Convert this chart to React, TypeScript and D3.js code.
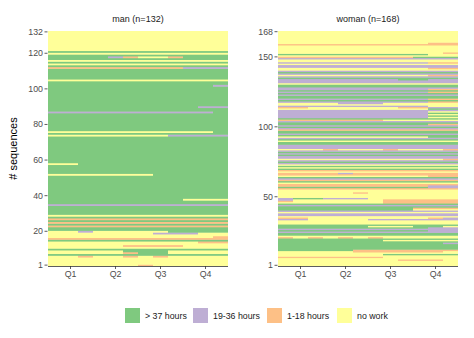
import React from "react";
import * as d3 from "d3";

// ---- data ----
const stateCodes = ["G", "P", "O", "Y"];
const stateLabels = ["> 37 hours", "19-36 hours", "1-18 hours", "no work"];
const stateColors = ["#7FC97F", "#BEAED4", "#FDC086", "#FFFF99"];

const monthCount = 12;
const quarterPositions = [2, 5, 8, 11];
const quarterLabels = ["Q1", "Q2", "Q3", "Q4"];

const manTicks = [1, 20, 40, 60, 80, 100, 120, 132];
const womanTicks = [1, 50, 100, 150, 168];

// sequences, bottom (#1) to top, as [monthly states, number of identical rows]
const manRuns: [string, number][] = [
  ["YYYYYYOYYYYY", 1],
  ["YYYYYYYYYYYY", 4],
  ["YYOYYOYOYYYY", 1],
  ["GGGGGGGGGGGG", 1],
  ["YYYYYOGGYYYY", 1],
  ["YYYYYGGGYYYY", 1],
  ["GGGGGGGGGGGG", 1],
  ["YYYYYYYYYYYY", 1],
  ["YYYYYOOOOYYY", 1],
  ["YYYYYYYYYYYY", 1],
  ["YYYYYYYYYYOO", 1],
  ["GGGGGGGGGGGG", 1],
  ["OOOOOOOOOOOO", 1],
  ["YYYYYYYYYYYO", 1],
  ["YYYYYYYYYYYY", 1],
  ["YYYYYYYPPPYY", 1],
  ["YYPYYYYYGGGG", 1],
  ["GGGGGGGGGGGG", 2],
  ["OOOOOOOOOOOO", 1],
  ["GGGGGGGGGGGG", 1],
  ["OOOOOOOOOOOO", 1],
  ["GGGGGGGGGGGG", 1],
  ["OOOOOOOOOOOO", 1],
  ["GGGGGGGGGGGG", 1],
  ["YYYYYYYYYYYY", 1],
  ["GGGGGGGGGGGG", 5],
  ["PPPPPPPPPPPP", 1],
  ["GGGGGGGGGGGG", 2],
  ["GGGGGGGGGYYY", 1],
  ["GGGGGGGGGGGG", 13],
  ["YYYYYYYGGGGG", 1],
  ["GGGGGGGGGGGG", 5],
  ["YYGGGGGGGGGG", 1],
  ["GGGGGGGGGGGG", 15],
  ["YYYYYYYYPPPP", 1],
  ["GGGGGGGGGGGG", 1],
  ["YYYYYYYYYYYG", 1],
  ["GGGGGGGGGGGG", 10],
  ["PPPPPPPPPPPG", 1],
  ["GGGGGGGGGGGG", 2],
  ["GGGGGGGGGGPP", 1],
  ["GGGGGGGGGGGG", 11],
  ["GGGGGGGGGGGP", 1],
  ["GGGGGGGGGGGG", 2],
  ["YYYYYYYYYYYY", 1],
  ["GGGGGGGGGGGG", 6],
  ["OOOOOOOOOPPP", 1],
  ["GGGGGGGGGGGG", 1],
  ["YYYYYYYYYYYY", 1],
  ["GGGGGGGGGGGG", 1],
  ["YYYYYYYYYYYY", 1],
  ["GGGGGGGGGGGG", 1],
  ["GGGGPOYYOGGG", 1],
  ["GGGGGGGGGGGG", 1],
  ["YYYYYYYYYYYY", 1],
  ["GGGGGGGGGGGG", 1],
  ["YYYYYYYYYYYY", 11],
];

const womanRuns: [string, number][] = [
  ["YYYYYYYYYYYY", 4],
  ["YYYYYYYYOOOY", 1],
  ["YYYYYYYYYYYY", 1],
  ["OOOOOOOYYYYY", 1],
  ["YYYYYYYYYYYY", 1],
  ["YYYYYYYGGGGG", 1],
  ["YYYYYYYYYYYY", 1],
  ["YYYYYOOOOOOY", 1],
  ["GGGGGOOOOOOO", 1],
  ["GGGGGGGGGGGG", 4],
  ["GGGGGGGGGGGP", 1],
  ["GGGGGGGGGGGG", 1],
  ["GGGGGGGYYYYY", 1],
  ["GGGGGGGGGGGG", 1],
  ["OYOYOYOYYYYY", 1],
  ["YYYYYYYYYYYY", 1],
  ["GGGGGGGGGGGG", 2],
  ["PPPPPPPPPPPP", 1],
  ["GGGGGGGGGGPP", 1],
  ["PPPPPPPPPPPP", 1],
  ["GGGGGGGGGGPP", 1],
  ["GGGGGGYYYGGY", 1],
  ["GGGGGGGGGGGG", 1],
  ["YYYYYYYYYYYY", 3],
  ["PPYYYYPPPPPP", 1],
  ["OOYYYYYYYYOP", 1],
  ["YYYYYYYYYYYY", 1],
  ["PPPPPPPPPPPP", 2],
  ["YYYYYYYYYYYY", 1],
  ["PPPPPPPPPPPP", 1],
  ["GGGGGGGGGYYY", 1],
  ["GGGGGGGGGOOO", 1],
  ["GGGGGGGGGGGG", 1],
  ["PPPPPPPPPPPP", 1],
  ["GGGGGGGGGGGG", 1],
  ["YYYYYYYOOOOO", 1],
  ["OYYYYYYOOOOO", 1],
  ["PYYYYYYOOOOO", 1],
  ["PGGPPPYYYYYY", 1],
  ["YYYYYYYYYYYY", 3],
  ["YYYYYOYYYYYY", 1],
  ["YYYYYYYYYYYY", 2],
  ["OOOOOOOOOOOO", 1],
  ["GGGGGGGGGGPP", 1],
  ["OOOOOOOOOOPP", 1],
  ["OOOOOOOOOOOO", 1],
  ["YYYYYYYYYYYY", 1],
  ["GGGGGGGGGGGG", 1],
  ["OOOOOOOOOOOO", 1],
  ["PPPPPPPPPPPP", 1],
  ["GGGGGGGGGGGG", 1],
  ["YYYYYYYYYYOO", 1],
  ["OOOOOOOOOOOO", 1],
  ["OOOOPOOOOOOO", 1],
  ["YYYYYYYYYYYY", 1],
  ["OOOOOOOOOOOO", 1],
  ["GGGGGGGGGGGG", 1],
  ["YYYYYYYYYYYY", 1],
  ["GGGGGGGGGGGG", 1],
  ["YYYYYYYYYYYY", 1],
  ["PPPPPPPPPPPP", 1],
  ["GGGGGGGGGGGG", 1],
  ["PPPPPPPPPPPP", 1],
  ["YYYYYYYYYYYO", 1],
  ["PPPPPPPPPPPP", 2],
  ["GGGGGGGGGGGG", 1],
  ["PPPPPPPPPPPP", 1],
  ["GGGGGGGGGGGG", 1],
  ["PPPPPPPPPPPP", 1],
  ["YYYOYYYOYYYO", 1],
  ["PPPPPPPPPPPP", 3],
  ["GGGGGGGGGGGG", 2],
  ["YYYYYYYYYYYY", 1],
  ["GGGGGGGGGGGG", 1],
  ["PPPPPPPPPPPP", 1],
  ["YYYYYYYYYYGG", 1],
  ["GGGGGGGGGGGG", 1],
  ["PPPPPPPPPPPP", 1],
  ["GGGGGGGGGGGG", 2],
  ["OOOOOOOOOOOO", 1],
  ["PPPPPPPPPPPP", 1],
  ["GGGGGGGGGGGG", 1],
  ["PPPPPPPPPPPP", 1],
  ["GGGGGGGGGGOO", 1],
  ["GGGGGGGGGGGG", 1],
  ["PPPPPPPPPPPP", 1],
  ["OOOOOOOYYYYY", 1],
  ["GGGGGGGGGGGG", 1],
  ["PPPPPPPPPPYY", 1],
  ["PPPPPPPPPPGG", 1],
  ["PPPPPPPPPPYY", 1],
  ["PPPPPPPPPPGG", 1],
  ["PPPPPPPPPPYY", 1],
  ["PPPPPPPPPPPP", 1],
  ["YYYYYYYYYYGG", 1],
  ["OOYYYYYYOOPP", 1],
  ["PPPPPPPPPPYY", 1],
  ["YYYYYYYYYYYY", 1],
  ["YYYYPPPYYYYY", 1],
  ["PPPPPPPPPPOO", 1],
  ["GGGGGGGGGGGG", 1],
  ["PPPPPPPPPPOO", 1],
  ["GGGGGGGGGGGG", 2],
  ["PPPPPPPPPPPP", 1],
  ["GGGGGGGGGGGG", 1],
  ["PPPPPPPPPPOO", 1],
  ["GGGGGGGGGGGG", 1],
  ["PPPPPPPPPPOO", 1],
  ["PPPPPPPPPPPP", 1],
  ["GGGGGGGGGGGG", 2],
  ["YYYYYYYYYYYY", 1],
  ["PPPPPPPPPPPP", 2],
  ["PPPPPPPPGGPP", 1],
  ["GGGGGGGGGGGG", 1],
  ["PPPPPPPPPPPP", 1],
  ["YYYYYYYYYYOO", 1],
  ["PPPPPPPPPPPP", 1],
  ["GGGGGGGGGGGG", 1],
  ["PPPPPPPPPPPP", 1],
  ["YYYYYYYYYYYY", 1],
  ["YYYYYYYYYYOO", 1],
  ["PPPPPPPPPPPP", 2],
  ["YYYYYYYYYYYY", 1],
  ["PPPPPPPPPPOO", 1],
  ["YYYYYYYYYYYY", 2],
  ["PPPPPPPPPPPP", 1],
  ["OOOOOOOOOGGG", 1],
  ["YYYYYYYYYYYY", 1],
  ["GGGGGGGGGGYY", 1],
  ["YYYYYYYYYYYO", 1],
  ["YYYYYYYYYYYY", 5],
  ["OOOOOOOOOOOO", 1],
  ["YYYYYYYYYYOO", 1],
  ["YYYYYYYYYYYY", 8],
];

// ---- helpers ----
function expandRuns(runs: [string, number][]): string[] {
  const out: string[] = [];
  runs.forEach(([s, c]) => {
    for (let k = 0; k < c; k++) out.push(s);
  });
  return out;
}

const W = 474;
const H = 338;
const panelTop = 31;
const panelBottom = 266;
const panelWidth = 180;
const FONT = "'Liberation Sans', Arial, sans-serif";

type Panel = { title: string; rows: string[]; ticks: number[]; x0: number };

function SeqPanel({ p }: { p: Panel }) {
  const n = p.rows.length;
  const x = d3.scaleLinear().domain([0.5, monthCount + 0.5]).range([p.x0, p.x0 + panelWidth]);
  const y = d3.scaleLinear().domain([0.5, n + 0.5]).range([panelBottom, panelTop]);
  const rects: JSX.Element[] = [];
  // merge cells vertically within each month column
  for (let m = 0; m < monthCount; m++) {
    let start = 0;
    for (let i = 1; i <= n; i++) {
      if (i === n || p.rows[i][m] !== p.rows[start][m]) {
        const st = stateCodes.indexOf(p.rows[start][m]);
        const yTop = y(i + 0.5); // top of row i (1-based = i)
        const yBot = y(start + 0.5); // bottom of row start+1
        rects.push(
          <rect
            key={`${m}-${start}`}
            x={x(m + 0.5)}
            y={yTop}
            width={x(m + 1.5) - x(m + 0.5)}
            height={yBot - yTop + (start === 0 ? 0 : 0.5)}
            fill={stateColors[st]}
          />
        );
        start = i;
      }
    }
  }
  const cx = p.x0 + panelWidth / 2;
  return (
    <g>
      <text x={cx} y={22} textAnchor="middle" fontSize={9} fill="#1A1A1A" fontFamily={FONT}>
        {p.title}
      </text>
      {rects}
      <line x1={p.x0} x2={p.x0 + panelWidth} y1={panelBottom + 0.5} y2={panelBottom + 0.5} stroke="#333" strokeWidth={0.8} />
      {quarterPositions.map((q, k) => (
        <g key={q}>
          <line x1={x(q)} x2={x(q)} y1={panelBottom} y2={panelBottom + 3} stroke="#333" strokeWidth={0.8} />
          <text x={x(q)} y={277} textAnchor="middle" fontSize={8.8} fill="#4D4D4D" fontFamily={FONT}>
            {quarterLabels[k]}
          </text>
        </g>
      ))}
      {p.ticks.map((t) => (
        <g key={t}>
          <line x1={p.x0 - 3.5} x2={p.x0 - 0.5} y1={y(t)} y2={y(t)} stroke="#333" strokeWidth={0.8} />
          <text x={p.x0 - 5} y={y(t) + 3} textAnchor="end" fontSize={8.8} fill="#4D4D4D" fontFamily={FONT}>
            {t}
          </text>
        </g>
      ))}
    </g>
  );
}

export default function App() {
  const manRows = expandRuns(manRuns);
  const womanRows = expandRuns(womanRuns);
  const panels: Panel[] = [
    { title: `man (n=${manRows.length})`, rows: manRows, ticks: manTicks, x0: 48 },
    { title: `woman (n=${womanRows.length})`, rows: womanRows, ticks: womanTicks, x0: 278 },
  ];
  const legendX = [125, 193, 267, 337];
  return (
    <svg width={W} height={H} style={{ position: "absolute", left: 0, top: 0, background: "#fff" }}>
      <rect x={0} y={0} width={W} height={H} fill="#fff" />
      {panels.map((p) => (
        <SeqPanel key={p.title} p={p} />
      ))}
      <text
        transform={`translate(17,${(panelTop + panelBottom) / 2}) rotate(-90)`}
        textAnchor="middle"
        fontSize={11}
        fill="#000"
        fontFamily={FONT}
      >
        # sequences
      </text>
      {stateLabels.map((lab, k) => (
        <g key={lab}>
          <rect x={legendX[k]} y={308} width={15} height={15} fill={stateColors[k]} />
          <text x={legendX[k] + 20} y={319} fontSize={8.8} fill="#1A1A1A" fontFamily={FONT}>
            {lab}
          </text>
        </g>
      ))}
    </svg>
  );
}
